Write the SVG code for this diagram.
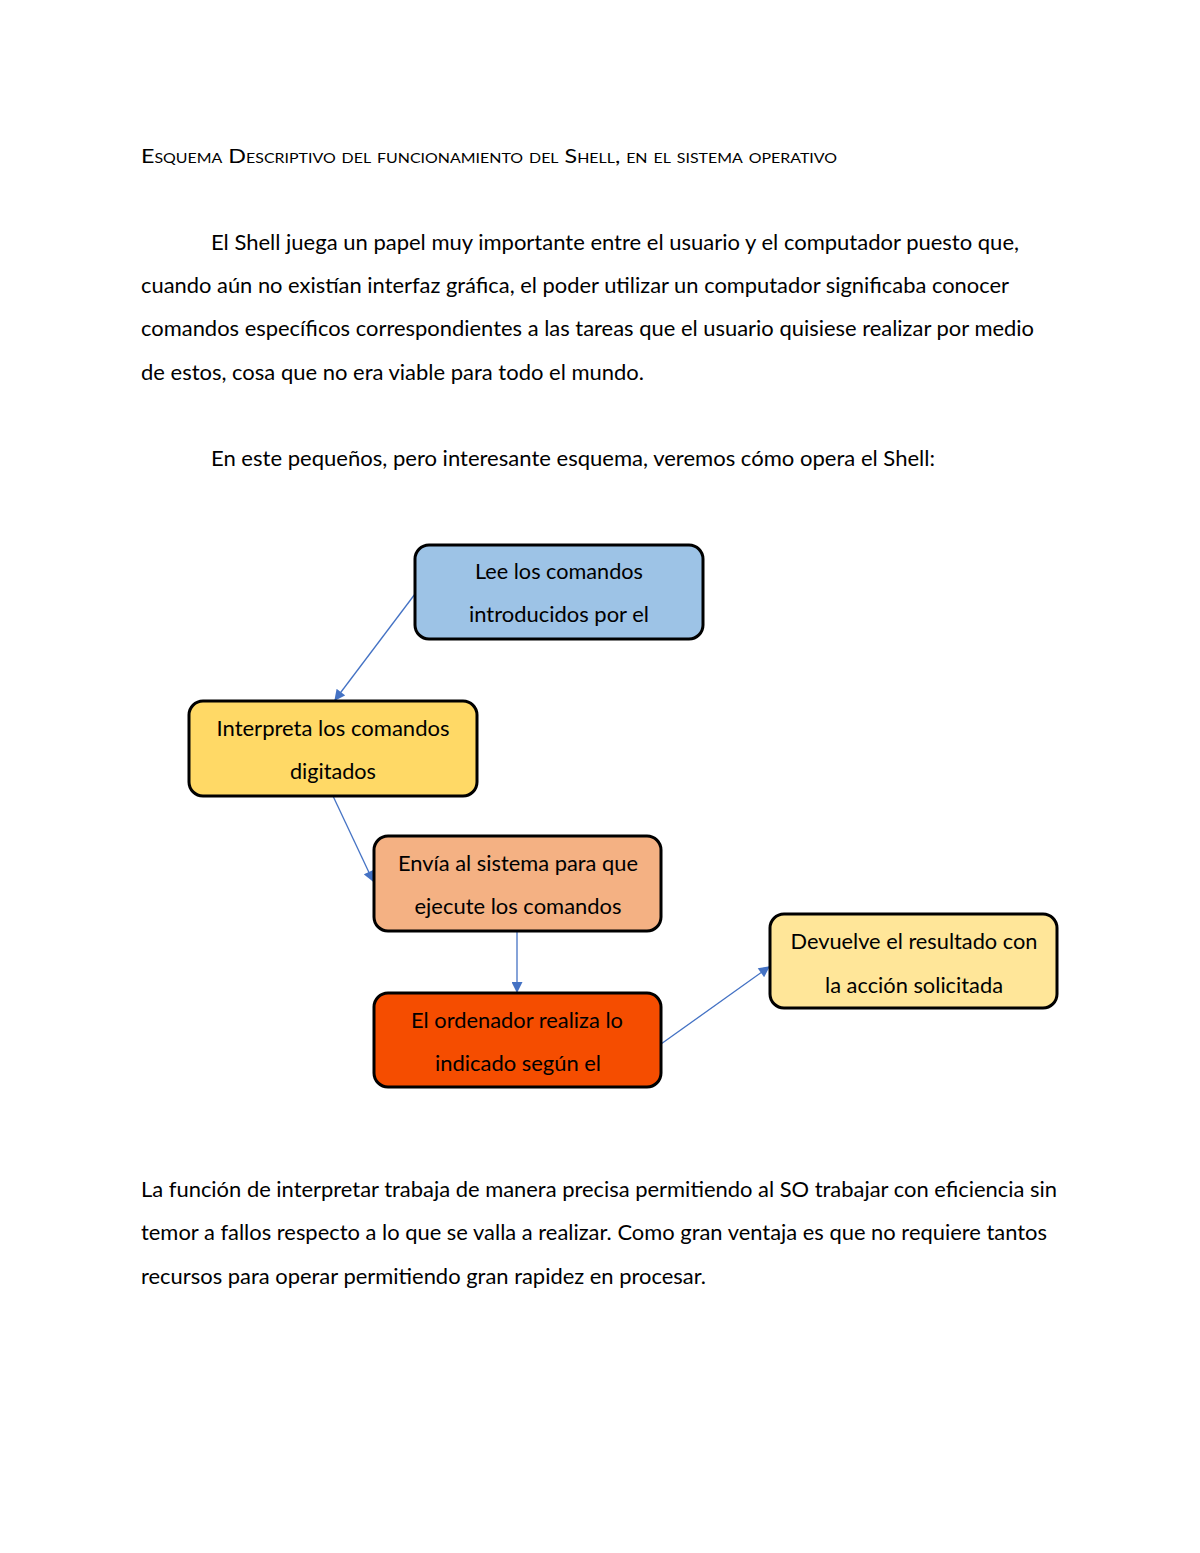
<svg xmlns="http://www.w3.org/2000/svg" width="1200" height="1553" viewBox="0 0 1200 1553">
<defs>
<style>
text{font-family:Lato,"Open Sans","Liberation Sans",sans-serif;font-size:21px;fill:#000}
.t{font-size:19px;font-variant:small-caps}
.c{text-anchor:middle}
.box{stroke:#000;stroke-width:3}
.con{stroke:#4472C4;stroke-width:1.3;fill:none;marker-end:url(#ah)}
</style>
<marker id="ah" viewBox="0 0 10 10" refX="9" refY="5" markerWidth="12" markerHeight="11" markerUnits="userSpaceOnUse" orient="auto"><path d="M0,0 L10,5 L0,10 z" fill="#4472C4"/></marker>
</defs>
<rect width="1200" height="1553" fill="#fff"/>
<text class="t" x="141" y="163" textLength="696" lengthAdjust="spacingAndGlyphs">Esquema Descriptivo del funcionamiento del Shell, en el sistema operativo</text>
<text x="211" y="250" textLength="808" lengthAdjust="spacingAndGlyphs">El Shell juega un papel muy importante entre el usuario y el computador puesto que,</text>
<text x="141" y="293" textLength="868" lengthAdjust="spacingAndGlyphs">cuando aún no existían interfaz gráfica, el poder utilizar un computador significaba conocer</text>
<text x="141" y="336" textLength="893" lengthAdjust="spacingAndGlyphs">comandos específicos correspondientes a las tareas que el usuario quisiese realizar por medio</text>
<text x="141" y="380" textLength="503" lengthAdjust="spacingAndGlyphs">de estos, cosa que no era viable para todo el mundo.</text>
<text x="211" y="466" textLength="724" lengthAdjust="spacingAndGlyphs">En este pequeños, pero interesante esquema, veremos cómo opera el Shell:</text>
<g id="connectors">
<line class="con" x1="415" y1="594" x2="335" y2="700"/>
<line class="con" x1="333" y1="796" x2="373" y2="881"/>
<line class="con" x1="517" y1="931" x2="517" y2="992"/>
<line class="con" x1="661" y1="1044" x2="769" y2="967"/>
</g>
<g id="n1">
<rect class="box" x="415" y="545" width="288" height="94" rx="14" fill="#9DC3E6"/>
<text class="c" x="559" y="579" textLength="168" lengthAdjust="spacingAndGlyphs">Lee los comandos</text>
<text class="c" x="559" y="622" textLength="180" lengthAdjust="spacingAndGlyphs">introducidos por el</text>
</g>
<g id="n2">
<rect class="box" x="189" y="701" width="288" height="95" rx="14" fill="#FFD966"/>
<text class="c" x="333" y="736" textLength="233" lengthAdjust="spacingAndGlyphs">Interpreta los comandos</text>
<text class="c" x="333" y="779" textLength="86" lengthAdjust="spacingAndGlyphs">digitados</text>
</g>
<g id="n3">
<rect class="box" x="374" y="836" width="287" height="95" rx="14" fill="#F4B183"/>
<text class="c" x="518" y="871" textLength="240" lengthAdjust="spacingAndGlyphs">Envía al sistema para que</text>
<text class="c" x="518" y="914" textLength="207" lengthAdjust="spacingAndGlyphs">ejecute los comandos</text>
</g>
<g id="n4">
<rect class="box" x="374" y="993" width="287" height="94" rx="14" fill="#F54D00"/>
<text class="c" x="517" y="1028" textLength="212" lengthAdjust="spacingAndGlyphs">El ordenador realiza lo</text>
<text class="c" x="518" y="1071" textLength="166" lengthAdjust="spacingAndGlyphs">indicado según el</text>
</g>
<g id="n5">
<rect class="box" x="770" y="914" width="287" height="94" rx="14" fill="#FFE699"/>
<text class="c" x="914" y="949" textLength="247" lengthAdjust="spacingAndGlyphs">Devuelve el resultado con</text>
<text class="c" x="914" y="993" textLength="178" lengthAdjust="spacingAndGlyphs">la acción solicitada</text>
</g>
<text x="141" y="1197" textLength="916" lengthAdjust="spacingAndGlyphs">La función de interpretar trabaja de manera precisa permitiendo al SO trabajar con eficiencia sin</text>
<text x="141" y="1240" textLength="906" lengthAdjust="spacingAndGlyphs">temor a fallos respecto a lo que se valla a realizar. Como gran ventaja es que no requiere tantos</text>
<text x="141" y="1284" textLength="565" lengthAdjust="spacingAndGlyphs">recursos para operar permitiendo gran rapidez en procesar.</text>
</svg>
